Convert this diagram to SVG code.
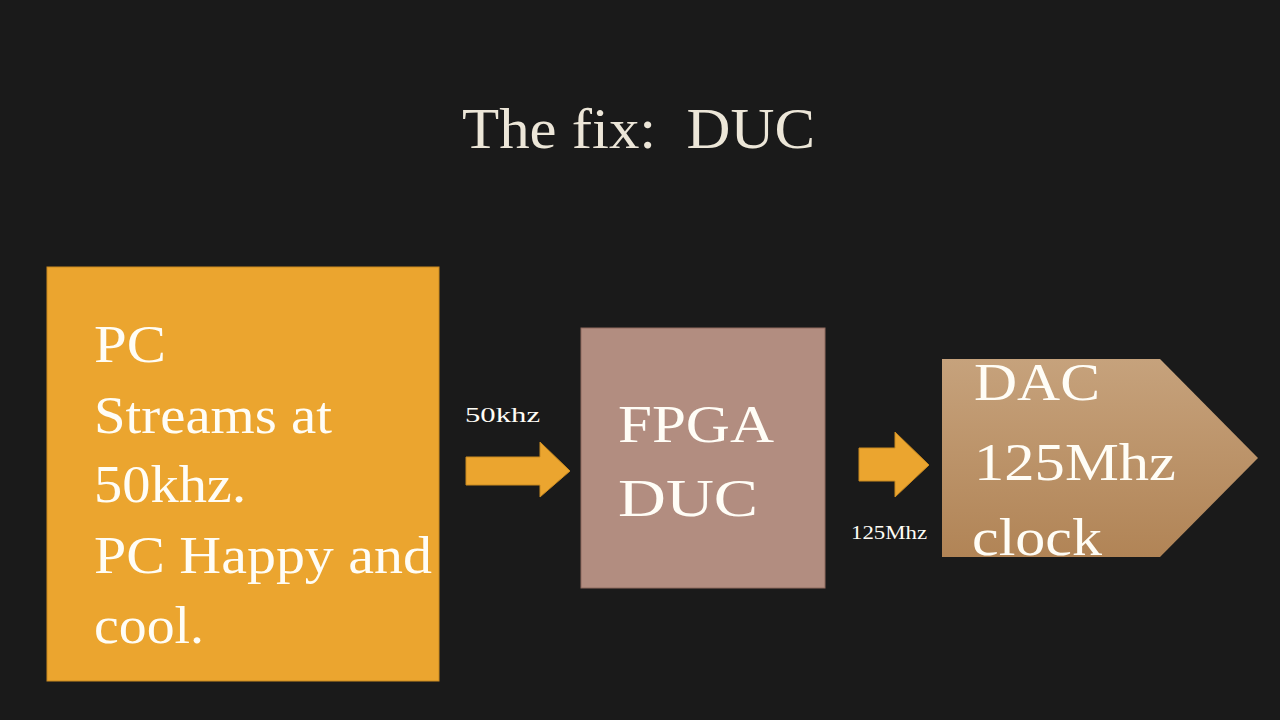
<svg xmlns="http://www.w3.org/2000/svg" width="1280" height="720" viewBox="0 0 1280 720">
<defs>
<style>
text{font-family:"Liberation Serif",serif;fill:#fffdf6}
.big{font-size:52px}
.lbl{font-size:22px}
</style>
<linearGradient id="dac" x1="0" y1="0" x2="0" y2="1"><stop offset="0" stop-color="#c6a27c"/><stop offset="1" stop-color="#b18456"/></linearGradient>
</defs>
<rect width="1280" height="720" fill="#1a1a1a"/>
<text x="462" y="148" font-size="56" textLength="353" lengthAdjust="spacingAndGlyphs" xml:space="preserve" style="fill:#ece6d8">The fix:  DUC</text>
<g id="pc">
<rect x="47" y="267" width="392" height="414" fill="#eba52f" stroke="#c98a20"/>
<text class="big" x="94" y="362" textLength="72" lengthAdjust="spacingAndGlyphs">PC</text>
<text class="big" x="94" y="433" textLength="238" lengthAdjust="spacingAndGlyphs">Streams at</text>
<text class="big" x="94" y="502" textLength="152" lengthAdjust="spacingAndGlyphs">50khz.</text>
<text class="big" x="94" y="573" textLength="338" lengthAdjust="spacingAndGlyphs">PC Happy and</text>
<text class="big" x="94" y="643" textLength="110" lengthAdjust="spacingAndGlyphs">cool.</text>
</g>
<g id="fpga">
<rect x="581" y="328" width="244" height="260" fill="#b28d80" stroke="#8f6a5e"/>
<text class="big" x="618" y="442" textLength="156" lengthAdjust="spacingAndGlyphs">FPGA</text>
<text class="big" x="618" y="516" textLength="140" lengthAdjust="spacingAndGlyphs">DUC</text>
</g>
<g id="dac">
<polygon points="942,359 1160,359 1258,458 1160,557 942,557" fill="url(#dac)"/>
<text class="big" x="974" y="400" textLength="126" lengthAdjust="spacingAndGlyphs">DAC</text>
<text class="big" x="974" y="480" textLength="202" lengthAdjust="spacingAndGlyphs">125Mhz</text>
<text class="big" x="972" y="555" textLength="130" lengthAdjust="spacingAndGlyphs">clock</text>
</g>
<g id="connectors">
<polygon points="466,457 540,457 540,442 570,471 540,497 540,485 466,485" fill="#eba52f" stroke="#c98a20"/>
<polygon points="859,448 895,448 895,432 929,465 895,497 895,481 859,481" fill="#eba52f" stroke="#c98a20"/>
<text class="lbl" x="465" y="422" textLength="75" lengthAdjust="spacingAndGlyphs">50khz</text>
<text x="851" y="539" font-size="19" textLength="76" lengthAdjust="spacingAndGlyphs">125Mhz</text>
</g>
</svg>
